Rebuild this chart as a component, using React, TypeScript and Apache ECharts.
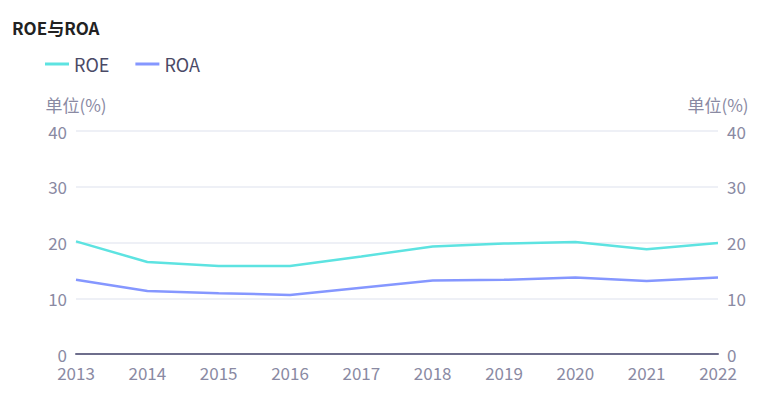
import React, { useEffect, useRef } from "react";
import * as echarts from "echarts";

const years = ["2013", "2014", "2015", "2016", "2017", "2018", "2019", "2020", "2021", "2022"];
const roe = [20.2, 16.5, 15.8, 15.8, 17.5, 19.3, 19.8, 20.1, 18.8, 19.9];
const roa = [13.3, 11.3, 10.9, 10.6, 11.9, 13.2, 13.3, 13.7, 13.1, 13.7];

const FONT = "'Noto Sans CJK SC', 'Noto Sans', sans-serif";

export default function App() {
  const ref = useRef<HTMLDivElement>(null);
  useEffect(() => {
    if (!ref.current) return;
    const chart = echarts.init(ref.current, undefined, { renderer: "svg" });
    const yAxisBase = {
      type: "value" as const,
      min: 0,
      max: 40,
      interval: 10,
      name: "单位(%)",
      nameGap: 18,
      nameTextStyle: { color: "#8a8aa3", fontSize: 17, fontFamily: FONT },
      axisLine: { show: false },
      axisTick: { show: false },
      axisLabel: { color: "#8a8aa3", fontSize: 17, lineHeight: 16, fontFamily: FONT, margin: 9 },
    };
    chart.setOption({
      animation: false,
      textStyle: { fontFamily: FONT },
      title: {
        text: "ROE与ROA",
        left: 7,
        top: 14,
        textStyle: { fontSize: 17, fontWeight: "bold", color: "#222", fontFamily: FONT },
      },
      legend: {
        left: 40,
        top: 50,
        itemWidth: 24,
        itemHeight: 3,
        itemGap: 26,
        icon: "rect",
        textStyle: { color: "#4a4a66", fontSize: 18, fontFamily: FONT },
        data: ["ROE", "ROA"],
      },
      grid: { left: 76, right: 50, top: 131, bottom: 40, containLabel: false },
      xAxis: {
        type: "category",
        data: years,
        boundaryGap: false,
        axisLine: { lineStyle: { color: "#6e6e8c", width: 2 } },
        axisTick: { show: false },
        axisLabel: { color: "#8a8aa3", fontSize: 17, lineHeight: 16, fontFamily: FONT, margin: 10 },
      },
      yAxis: [
        {
          ...yAxisBase,
          position: "left",
          splitLine: { lineStyle: { color: "#eef0f6", width: 2 } },
        },
        {
          ...yAxisBase,
          position: "right",
          splitLine: { show: false },
        },
      ],
      series: [
        {
          name: "ROE",
          type: "line",
          data: roe,
          yAxisIndex: 0,
          showSymbol: false,
          symbol: "none",
          itemStyle: { color: "#5de3e1" },
          lineStyle: { color: "#5de3e1", width: 2.5 },
        },
        {
          name: "ROA",
          type: "line",
          data: roa,
          yAxisIndex: 0,
          showSymbol: false,
          symbol: "none",
          itemStyle: { color: "#8597ff" },
          lineStyle: { color: "#8597ff", width: 2.5 },
        },
      ],
    });
    return () => chart.dispose();
  }, []);
  return <div ref={ref} style={{ width: 768, height: 394, position: "absolute", left: 0, top: 0 }} />;
}
